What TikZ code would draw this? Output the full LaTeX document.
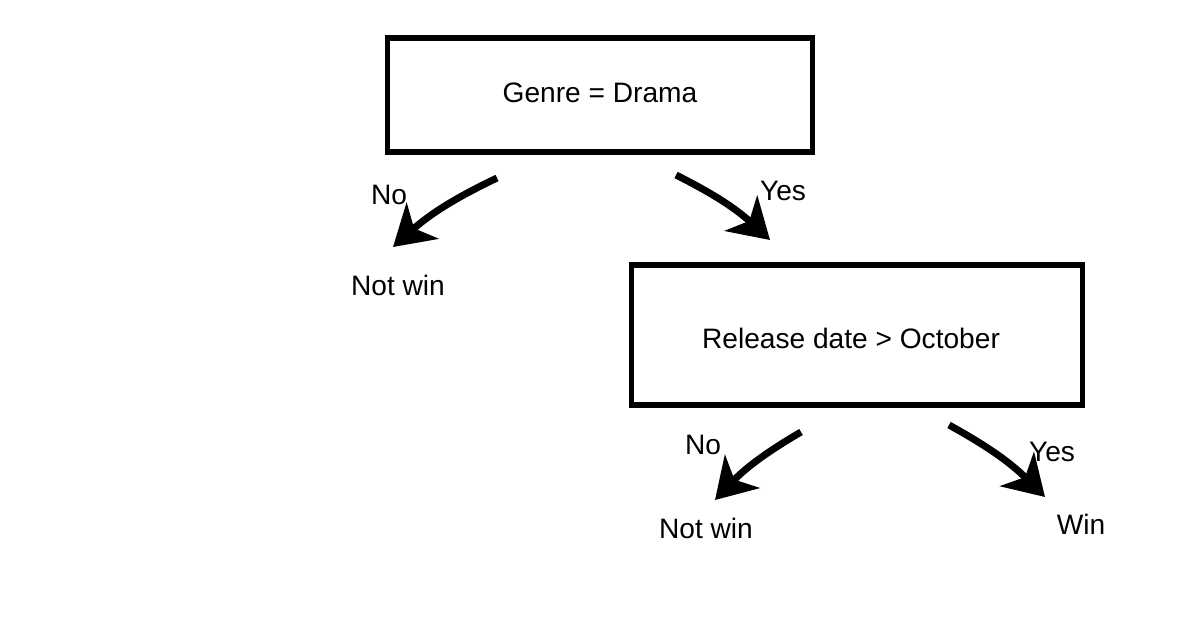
\documentclass[tikz,border=0pt]{standalone}
\usepackage{fontspec}
\setmainfont{Liberation Sans}
\usetikzlibrary{arrows.meta}
\begin{document}
\begin{tikzpicture}[x=0.025cm,y=-0.025cm,
	box/.style={draw, line width=3.6pt, inner sep=0pt},
	lbl/.style={font=\fontsize{20}{24}\selectfont},
	branch/.style={line width=5pt, -{Stealth[length=28pt,width=34pt,inset=8pt]}}]
	\useasboundingbox (0,0) rectangle (1200,639);
	% decision boxes
	\node[box, minimum width=10.6cm, minimum height=2.85cm] (root) at (600,95) {};
	\node[lbl] (rootText) at (600,93) {Genre = Drama};
	\node[box, minimum width=11.25cm, minimum height=3.5cm] (date) at (857,335) {};
	\node[lbl] (dateText) at (851,338) {Release date > October};
	% leaves
	\node[lbl] (leafA) at (398,285) {Not win};
	\node[lbl] (leafB) at (706,528) {Not win};
	\node[lbl] (leafC) at (1081,524) {Win};
	% branch labels
	\node[lbl] (noA) at (389,195) {No};
	\node[lbl] (yesA) at (783,191) {Yes};
	\node[lbl] (noB) at (703,445) {No};
	\node[lbl] (yesB) at (1052,452) {Yes};
	% arrow ends
	\coordinate (a0) at (497,178); \coordinate (a1) at (393,247);
	\coordinate (b0) at (676,175); \coordinate (b1) at (770,240);
	\coordinate (c0) at (801,432); \coordinate (c1) at (715,500);
	\coordinate (d0) at (949,425); \coordinate (d1) at (1045,497);
	\draw[branch] (a0) to[bend right=8] (a1);
	\draw[branch] (b0) to[bend left=8] (b1);
	\draw[branch] (c0) to[bend right=8] (c1);
	\draw[branch] (d0) to[bend left=8] (d1);
\end{tikzpicture}
\end{document}
